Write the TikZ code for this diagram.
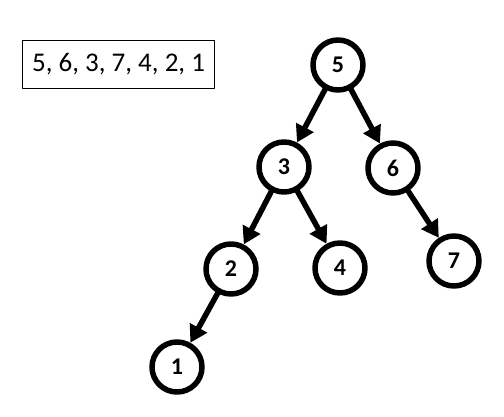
\documentclass[tikz,border=0pt]{standalone}
\usepackage{fontspec}
\setmainfont{Carlito}
\usetikzlibrary{arrows.meta}

\tikzset{
  treenode/.style={circle,draw=black,line width=5.5pt,minimum size=50pt,inner sep=0pt,font=\fontsize{24}{26}\selectfont\bfseries},
  treeedge/.style={line width=5.5pt,-{Triangle[length=17pt,width=19pt]}}
}

\begin{document}
\begin{tikzpicture}[line cap=round,line join=round,x=1pt,y=-1pt]
    \useasboundingbox (0,0) rectangle (504,416);

    \node[draw=black,line width=1pt,minimum width=192pt,minimum height=48pt,inner sep=0pt,font=\fontsize{27}{30}\selectfont] (order) at (118.5,64) {5, 6, 3, 7, 4, 2, 1};

    \node[treenode] (n5) at (338,65) {5};
    \node[treenode] (n3) at (284,167) {3};
    \node[treenode] (n6) at (393,168) {6};
    \node[treenode] (n2) at (231,269) {2};
    \node[treenode] (n4) at (340,268) {4};
    \node[treenode] (n7) at (454,261) {7};
    \node[treenode] (n1) at (177,367) {1};

    \draw[treeedge] (n5) -- (n3);
    \draw[treeedge] (n5) -- (n6);
    \draw[treeedge] (n3) -- (n2);
    \draw[treeedge] (n3) -- (n4);
    \draw[treeedge] (n6) -- (n7);
    \draw[treeedge] (n2) -- (n1);
  \end{tikzpicture}
\end{document}
